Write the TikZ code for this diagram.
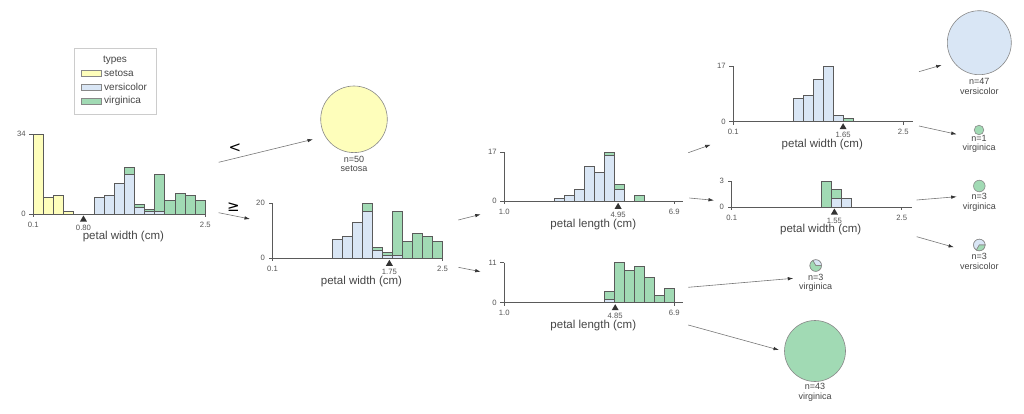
\documentclass[tikz,border=0pt]{standalone}
\usepackage{fontspec}
\setmainfont{Liberation Sans}
\newfontfamily\symfont{DejaVu Sans}
\usetikzlibrary{arrows.meta}
\definecolor{cSet}{HTML}{FEFEBB}
\definecolor{cVer}{HTML}{D9E6F5}
\definecolor{cVir}{HTML}{A1DAB4}
\definecolor{edgec}{HTML}{5A5A5A}
\definecolor{axc}{HTML}{5A5A5A}
\definecolor{tickc}{HTML}{555555}
\definecolor{labc}{HTML}{444444}
\definecolor{arrc}{HTML}{777777}
\definecolor{headc}{HTML}{333333}
\definecolor{circc}{HTML}{888888}
\definecolor{legc}{HTML}{CCCCCC}
\tikzset{
  barbox/.style={draw=edgec, line width=0.75pt},
  axisline/.style={draw=axc, line width=0.8pt},
  ticklab/.style={font=\fontsize{7.7}{8}\selectfont, text=tickc, inner sep=0pt},
  axlab/.style={font=\fontsize{11.5}{12}\selectfont, text=labc, inner sep=0pt},
  leaflab/.style={font=\fontsize{9}{10}\selectfont, text=labc, inner sep=0pt},
  leglab/.style={font=\fontsize{10}{11}\selectfont, text=labc, inner sep=0pt},
  dirlab/.style={font=\symfont\fontsize{15}{16}\selectfont, text=black, inner sep=0pt},
  leaf/.style={circle, draw=circc, line width=0.6pt, inner sep=0pt},
  patchbox/.style={draw=circc, line width=0.6pt, minimum width=19.3pt, minimum height=6.7pt, inner sep=0pt},
  edgearrow/.style={draw=arrc, line width=0.6pt, -{Latex[length=5.5pt,width=3.5pt,color=headc]}},
}
\newcommand{\hbin}[4]{\filldraw[barbox, fill=#4] (#1,#2) rectangle ({#1+1},#3);}
\newcommand{\haxes}[9]{%
  \draw[axisline] (0,#2) -- (0,0) -- (#4,0);
  \draw[axisline] (0,#2) -- ++(-4pt,0pt);
  \draw[axisline] (0,0) -- ++(-4pt,0pt);
  \draw[axisline] (0,0) -- ++(0pt,-3pt);
  \draw[axisline] (17,0) -- ++(0pt,-3pt);
  \node[ticklab, anchor=east] (#1y1) at ([xshift=-7.5pt]0,#2) {#3};
  \node[ticklab, anchor=east] (#1y0) at ([xshift=-7.5pt]0,0) {0};
  \node[ticklab] (#1xl) at ([yshift=-10.5pt]0,0) {#5};
  \node[ticklab] (#1xh) at ([yshift=-10.5pt]17,0) {#6};
  \fill[headc] ([yshift=-1.5pt]#7,0) -- ++(-3.5pt,-6pt) -- ++(7pt,0pt) -- cycle;
  \node[ticklab] (#1t) at ([yshift=-13.5pt]#7,0) {#8};
  \node[axlab] (#1lab) at ([yshift=-23pt]8.9,0) {#9};
}
\begin{document}
\begin{tikzpicture}[x=1pt,y=-1pt]
\useasboundingbox (0,0) rectangle (1024,414);

% legend
\node[draw=legc, line width=0.6pt, minimum width=82pt, minimum height=66pt, inner sep=0pt, anchor=north west] (legend) at (74,48) {};
\node[leglab] (legtitle) at (115,60) {types};
\node[patchbox, fill=cSet] (p1) at (91.3,73.3) {};
\node[leglab, anchor=west] (t1) at (104,73.3) {setosa};
\node[patchbox, fill=cVer] (p2) at (91.3,87.3) {};
\node[leglab, anchor=west] (t2) at (104,87.3) {versicolor};
\node[patchbox, fill=cVir] (p3) at (91.3,101.3) {};
\node[leglab, anchor=west] (t3) at (104,101.3) {virginica};

% H1 root
\begin{scope}[shift={(33.3,214)}, x=10.12pt, y=2.345pt]
\hbin{0}{0}{34}{cSet} \hbin{1}{0}{7}{cSet} \hbin{2}{0}{8}{cSet} \hbin{3}{0}{1}{cSet}
\hbin{6}{0}{7}{cVer} \hbin{7}{0}{8}{cVer} \hbin{8}{0}{13}{cVer} \hbin{9}{0}{17}{cVer}
\hbin{10}{0}{3}{cVer} \hbin{11}{0}{1}{cVer} \hbin{12}{0}{1}{cVer}
\hbin{9}{17}{20}{cVir} \hbin{10}{3}{4}{cVir} \hbin{11}{1}{2}{cVir} \hbin{12}{1}{17}{cVir}
\hbin{13}{0}{6}{cVir} \hbin{14}{0}{9}{cVir} \hbin{15}{0}{8}{cVir} \hbin{16}{0}{6}{cVir}
\haxes{h1}{34}{34}{17}{0.1}{2.5}{4.958}{0.80}{petal width (cm)}
\end{scope}

% H2
\begin{scope}[shift={(272.5,258.3)}, x=10pt, y=2.75pt]
\hbin{6}{0}{7}{cVer} \hbin{7}{0}{8}{cVer} \hbin{8}{0}{13}{cVer} \hbin{9}{0}{17}{cVer}
\hbin{10}{0}{3}{cVer} \hbin{11}{0}{1}{cVer} \hbin{12}{0}{1}{cVer}
\hbin{9}{17}{20}{cVir} \hbin{10}{3}{4}{cVir} \hbin{11}{1}{2}{cVir} \hbin{12}{1}{17}{cVir}
\hbin{13}{0}{6}{cVir} \hbin{14}{0}{9}{cVir} \hbin{15}{0}{8}{cVir} \hbin{16}{0}{6}{cVir}
\haxes{h2}{20}{20}{17}{0.1}{2.5}{11.6875}{1.75}{petal width (cm)}
\end{scope}

% H3
\begin{scope}[shift={(504.3,201.3)}, x=10pt, y=2.88pt]
\hbin{5}{0}{1}{cVer} \hbin{6}{0}{2}{cVer} \hbin{7}{0}{4}{cVer} \hbin{8}{0}{12}{cVer}
\hbin{9}{0}{10}{cVer} \hbin{10}{0}{16}{cVer} \hbin{11}{0}{4}{cVer}
\hbin{10}{16}{17}{cVir} \hbin{11}{4}{6}{cVir} \hbin{13}{0}{2}{cVir}
\haxes{h3}{17}{17}{17.85}{1.0}{6.9}{11.38}{4.95}{petal length (cm)}
\end{scope}

% H4
\begin{scope}[shift={(504.3,302.7)}, x=10pt, y=3.64pt]
\hbin{10}{0}{1}{cVer}
\hbin{10}{1}{3}{cVir} \hbin{11}{0}{11}{cVir} \hbin{12}{0}{9}{cVir} \hbin{13}{0}{10}{cVir}
\hbin{14}{0}{7}{cVir} \hbin{15}{0}{2}{cVir} \hbin{16}{0}{4}{cVir}
\haxes{h4}{11}{11}{17.85}{1.0}{6.9}{11.09}{4.85}{petal length (cm)}
\end{scope}

% H5
\begin{scope}[shift={(733.3,121.7)}, x=10pt, y=3.275pt]
\hbin{6}{0}{7}{cVer} \hbin{7}{0}{8}{cVer} \hbin{8}{0}{13}{cVer} \hbin{9}{0}{17}{cVer}
\hbin{10}{0}{2}{cVer} \hbin{11}{0}{1}{cVir}
\haxes{h5}{17}{17}{18}{0.1}{2.5}{10.98}{1.65}{petal width (cm)}
\end{scope}

% H6
\begin{scope}[shift={(731.7,207)}, x=10pt, y=8.57pt]
\hbin{9}{0}{3}{cVir} \hbin{10}{0}{1}{cVer} \hbin{10}{1}{2}{cVir} \hbin{11}{0}{1}{cVer}
\haxes{h6}{3}{3}{18}{0.1}{2.5}{10.27}{1.55}{petal width (cm)}
\end{scope}

% leaves
\node[leaf, fill=cSet, minimum size=66.6pt] (L1) at (354,119.3) {};
\node[leaflab] (L1n) at (354,159.3) {n=50};
\node[leaflab] (L1c) at (354,168.9) {setosa};

\node[leaf, fill=cVer, minimum size=64pt] (L2) at (979.3,42.7) {};
\node[leaflab] (L2n) at (979.3,81) {n=47};
\node[leaflab] (L2c) at (979.3,90.9) {versicolor};

\node[leaf, fill=cVir, minimum size=9.6pt] (L3) at (979,130) {};
\node[leaflab] (L3n) at (979,138.5) {n=1};
\node[leaflab] (L3c) at (979,147.9) {virginica};

\node[leaf, fill=cVir, minimum size=11.6pt] (L4) at (979.3,186) {};
\node[leaflab] (L4n) at (979.3,196.7) {n=3};
\node[leaflab] (L4c) at (979.3,206.7) {virginica};

\node[leaf, minimum size=11.6pt] (L5) at (979.3,245) {};
\filldraw[fill=cVer, draw=circc, line width=0.6pt] (L5.center) -- ++(0:5.8pt) arc[start angle=0, end angle=240, radius=5.8pt] -- cycle;
\filldraw[fill=cVir, draw=circc, line width=0.6pt] (L5.center) -- ++(240:5.8pt) arc[start angle=240, end angle=360, radius=5.8pt] -- cycle;
\node[leaflab] (L5n) at (979.3,256.3) {n=3};
\node[leaflab] (L5c) at (979.3,266.2) {versicolor};

\node[leaf, minimum size=11.6pt] (L6) at (815.7,265.5) {};
\filldraw[fill=cVer, draw=circc, line width=0.6pt] (L6.center) -- ++(0:5.8pt) arc[start angle=0, end angle=120, radius=5.8pt] -- cycle;
\filldraw[fill=cVir, draw=circc, line width=0.6pt] (L6.center) -- ++(120:5.8pt) arc[start angle=120, end angle=360, radius=5.8pt] -- cycle;
\node[leaflab] (L6n) at (815.7,277.3) {n=3};
\node[leaflab] (L6c) at (815.7,287.2) {virginica};

\node[leaf, fill=cVir, minimum size=61pt] (L7) at (815,351) {};
\node[leaflab] (L7n) at (815,386.7) {n=43};
\node[leaflab] (L7c) at (815,396.7) {virginica};

% split labels
\node[dirlab] (lt) at (235,148) {<};
\node[dirlab] (ge) at (233.3,206.7) {≥};

% connectors
\coordinate (e1s) at (218.7,162.3);  \coordinate (e1e) at (313,139.3);
\coordinate (e2s) at (218.7,212.7);  \coordinate (e2e) at (250,219);
\coordinate (e3s) at (458.3,220);    \coordinate (e3e) at (480.7,214.3);
\coordinate (e4s) at (458.3,267.3);  \coordinate (e4e) at (480.7,271.7);
\coordinate (e5s) at (688.3,152.7);  \coordinate (e5e) at (710.7,144.7);
\coordinate (e6s) at (689.3,198);    \coordinate (e6e) at (714,200.3);
\coordinate (e7s) at (688.3,287.3);  \coordinate (e7e) at (793.3,278.3);
\coordinate (e8s) at (688.3,325);    \coordinate (e8e) at (779,350);
\coordinate (e9s) at (919,71.7);     \coordinate (e9e) at (941.7,65);
\coordinate (e10s) at (919,126);     \coordinate (e10e) at (956.7,134.3);
\coordinate (e11s) at (916.7,200);   \coordinate (e11e) at (956.7,196.7);
\coordinate (e12s) at (916.7,236.7); \coordinate (e12e) at (954,247.3);
\foreach \i in {1,...,12} { \draw[edgearrow] (e\i s) -- (e\i e); }
\end{tikzpicture}
\end{document}
